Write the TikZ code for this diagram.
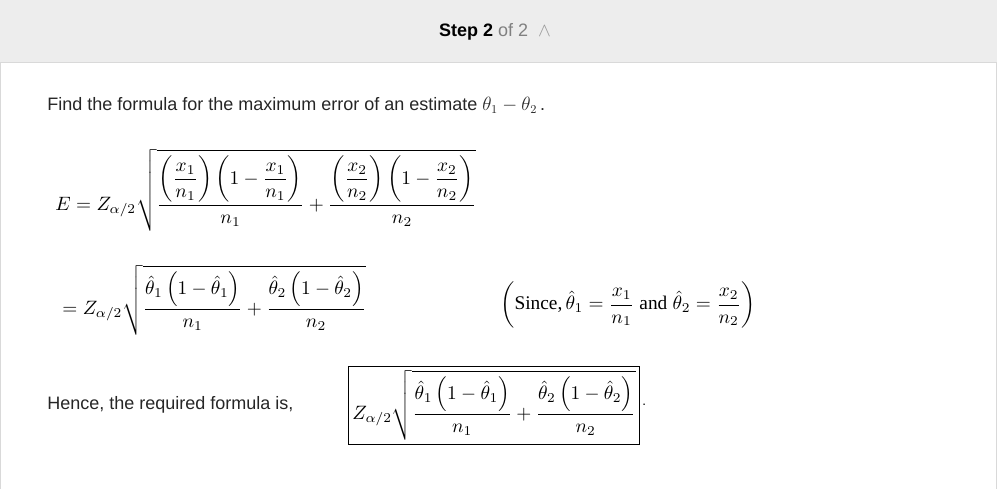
\documentclass[tikz,border=0pt]{standalone}
\usepackage{amsmath}
\usepackage{fontspec}
\setmainfont{Liberation Sans}
\begin{document}
\begin{tikzpicture}[x=0.75pt,y=-0.75pt,
  txt/.style={anchor=west,inner sep=0pt,font=\fontsize{13.5}{16}\selectfont,text=black!85},
  eq/.style={anchor=west,inner sep=0pt}]
\useasboundingbox (0,0) rectangle (997,489);
\fill[black!7] (0,0) rectangle (997,62);
\draw[black!15] (0.5,62) -- (0.5,489) (996.5,62) -- (996.5,489) (0,62) -- (997,62);
\node[inner sep=0pt,font=\fontsize{13.5}{16}\selectfont] (hdr) at (495,32) {\textbf{Step 2} \textcolor{black!50}{of 2}\ \ \textcolor{black!40}{$\wedge$}};
\node[txt] (find) at (47,105) {Find the formula for the maximum error of an estimate $\theta_1-\theta_2$\,.};
\node[eq,scale=1.45] (e1) at (55,190) {$E=Z_{\alpha/2}\sqrt{\dfrac{\left(\dfrac{x_1}{n_1}\right)\left(1-\dfrac{x_1}{n_1}\right)}{n_1}+\dfrac{\left(\dfrac{x_2}{n_2}\right)\left(1-\dfrac{x_2}{n_2}\right)}{n_2}}$};
\node[eq,scale=1.45] (e2) at (62,300) {$=Z_{\alpha/2}\sqrt{\dfrac{\hat\theta_1\left(1-\hat\theta_1\right)}{n_1}+\dfrac{\hat\theta_2\left(1-\hat\theta_2\right)}{n_2}}$};
\node[eq,scale=1.45] (since) at (500,305) {$\left(\text{\fontspec{Liberation Serif}Since,}\,\hat\theta_1=\dfrac{x_1}{n_1}\ \text{\fontspec{Liberation Serif}and}\ \hat\theta_2=\dfrac{x_2}{n_2}\right)$};
\node[txt] (hence) at (47,405) {Hence, the required formula is,};
\node[eq,scale=1.45,draw,line width=0.5pt,inner sep=2pt] (res) at (348,405) {$Z_{\alpha/2}\sqrt{\dfrac{\hat\theta_1\left(1-\hat\theta_1\right)}{n_1}+\dfrac{\hat\theta_2\left(1-\hat\theta_2\right)}{n_2}}$};
\node[eq] (dot) at (res.east) {\,.};
\end{tikzpicture}
\end{document}
